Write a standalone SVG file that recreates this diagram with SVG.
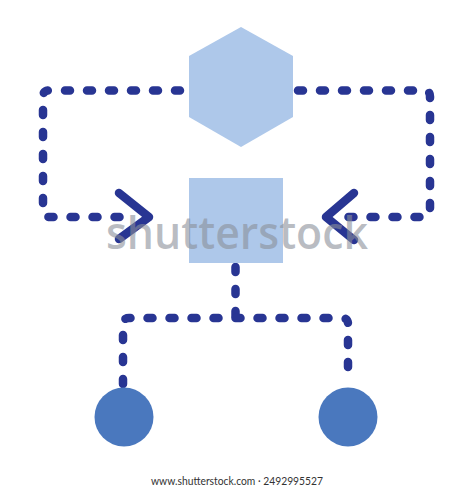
<svg xmlns="http://www.w3.org/2000/svg" width="474" height="489" viewBox="0 0 474 489">
<style>
.dash{fill:none;stroke:#283593;stroke-width:8.5;stroke-linecap:round;stroke-linejoin:round;stroke-dasharray:5 17}
.chev{fill:none;stroke:#283593;stroke-width:8.5;stroke-linecap:round;stroke-linejoin:round}
.light{fill:#AEC8EA}
.dot{fill:#4A78BE}
</style>
<rect width="474" height="489" fill="#ffffff"/>
<g id="connectors">
<path class="dash" d="M180 90.5 H49 Q43 90.5 43 96.5 V211 Q43 217 49 217 H130"/>
<path class="chev" d="M119 193 L149 217 L119 239"/>
<path class="dash" d="M298 90.5 H424 Q430 90.5 430 96.5 V211 Q430 217 424 217 H345"/>
<path class="chev" d="M354 193 L326 217 L354 240"/>
<path class="dash" d="M235.5 267 V318"/>
<path class="dash" d="M123 384 V324 Q123 318 129 318 H342 Q348 318 348 324 V384"/>
</g>
<g id="hexagon"><polygon class="light" points="241,27 293,56 293,117 241,147 189,117 189,56"/></g>
<g id="square"><rect class="light" x="189" y="178" width="94" height="85"/></g>
<g id="circle-left"><circle class="dot" cx="124" cy="417" r="29.5"/></g>
<g id="circle-right"><circle class="dot" cx="348" cy="417" r="29.5"/></g>
<text x="237" y="249" text-anchor="middle" font-family="'Open Sans', 'Liberation Sans', sans-serif" font-size="46" font-weight="600" fill="#8a8f99" fill-opacity="0.6" textLength="262" lengthAdjust="spacingAndGlyphs">shutterstock</text>
<text x="237" y="485" text-anchor="middle" font-family="Lato, 'Liberation Sans', sans-serif" font-size="12" fill="#333333" textLength="172" lengthAdjust="spacingAndGlyphs">www.shutterstock.com · 2492995527</text>
</svg>
